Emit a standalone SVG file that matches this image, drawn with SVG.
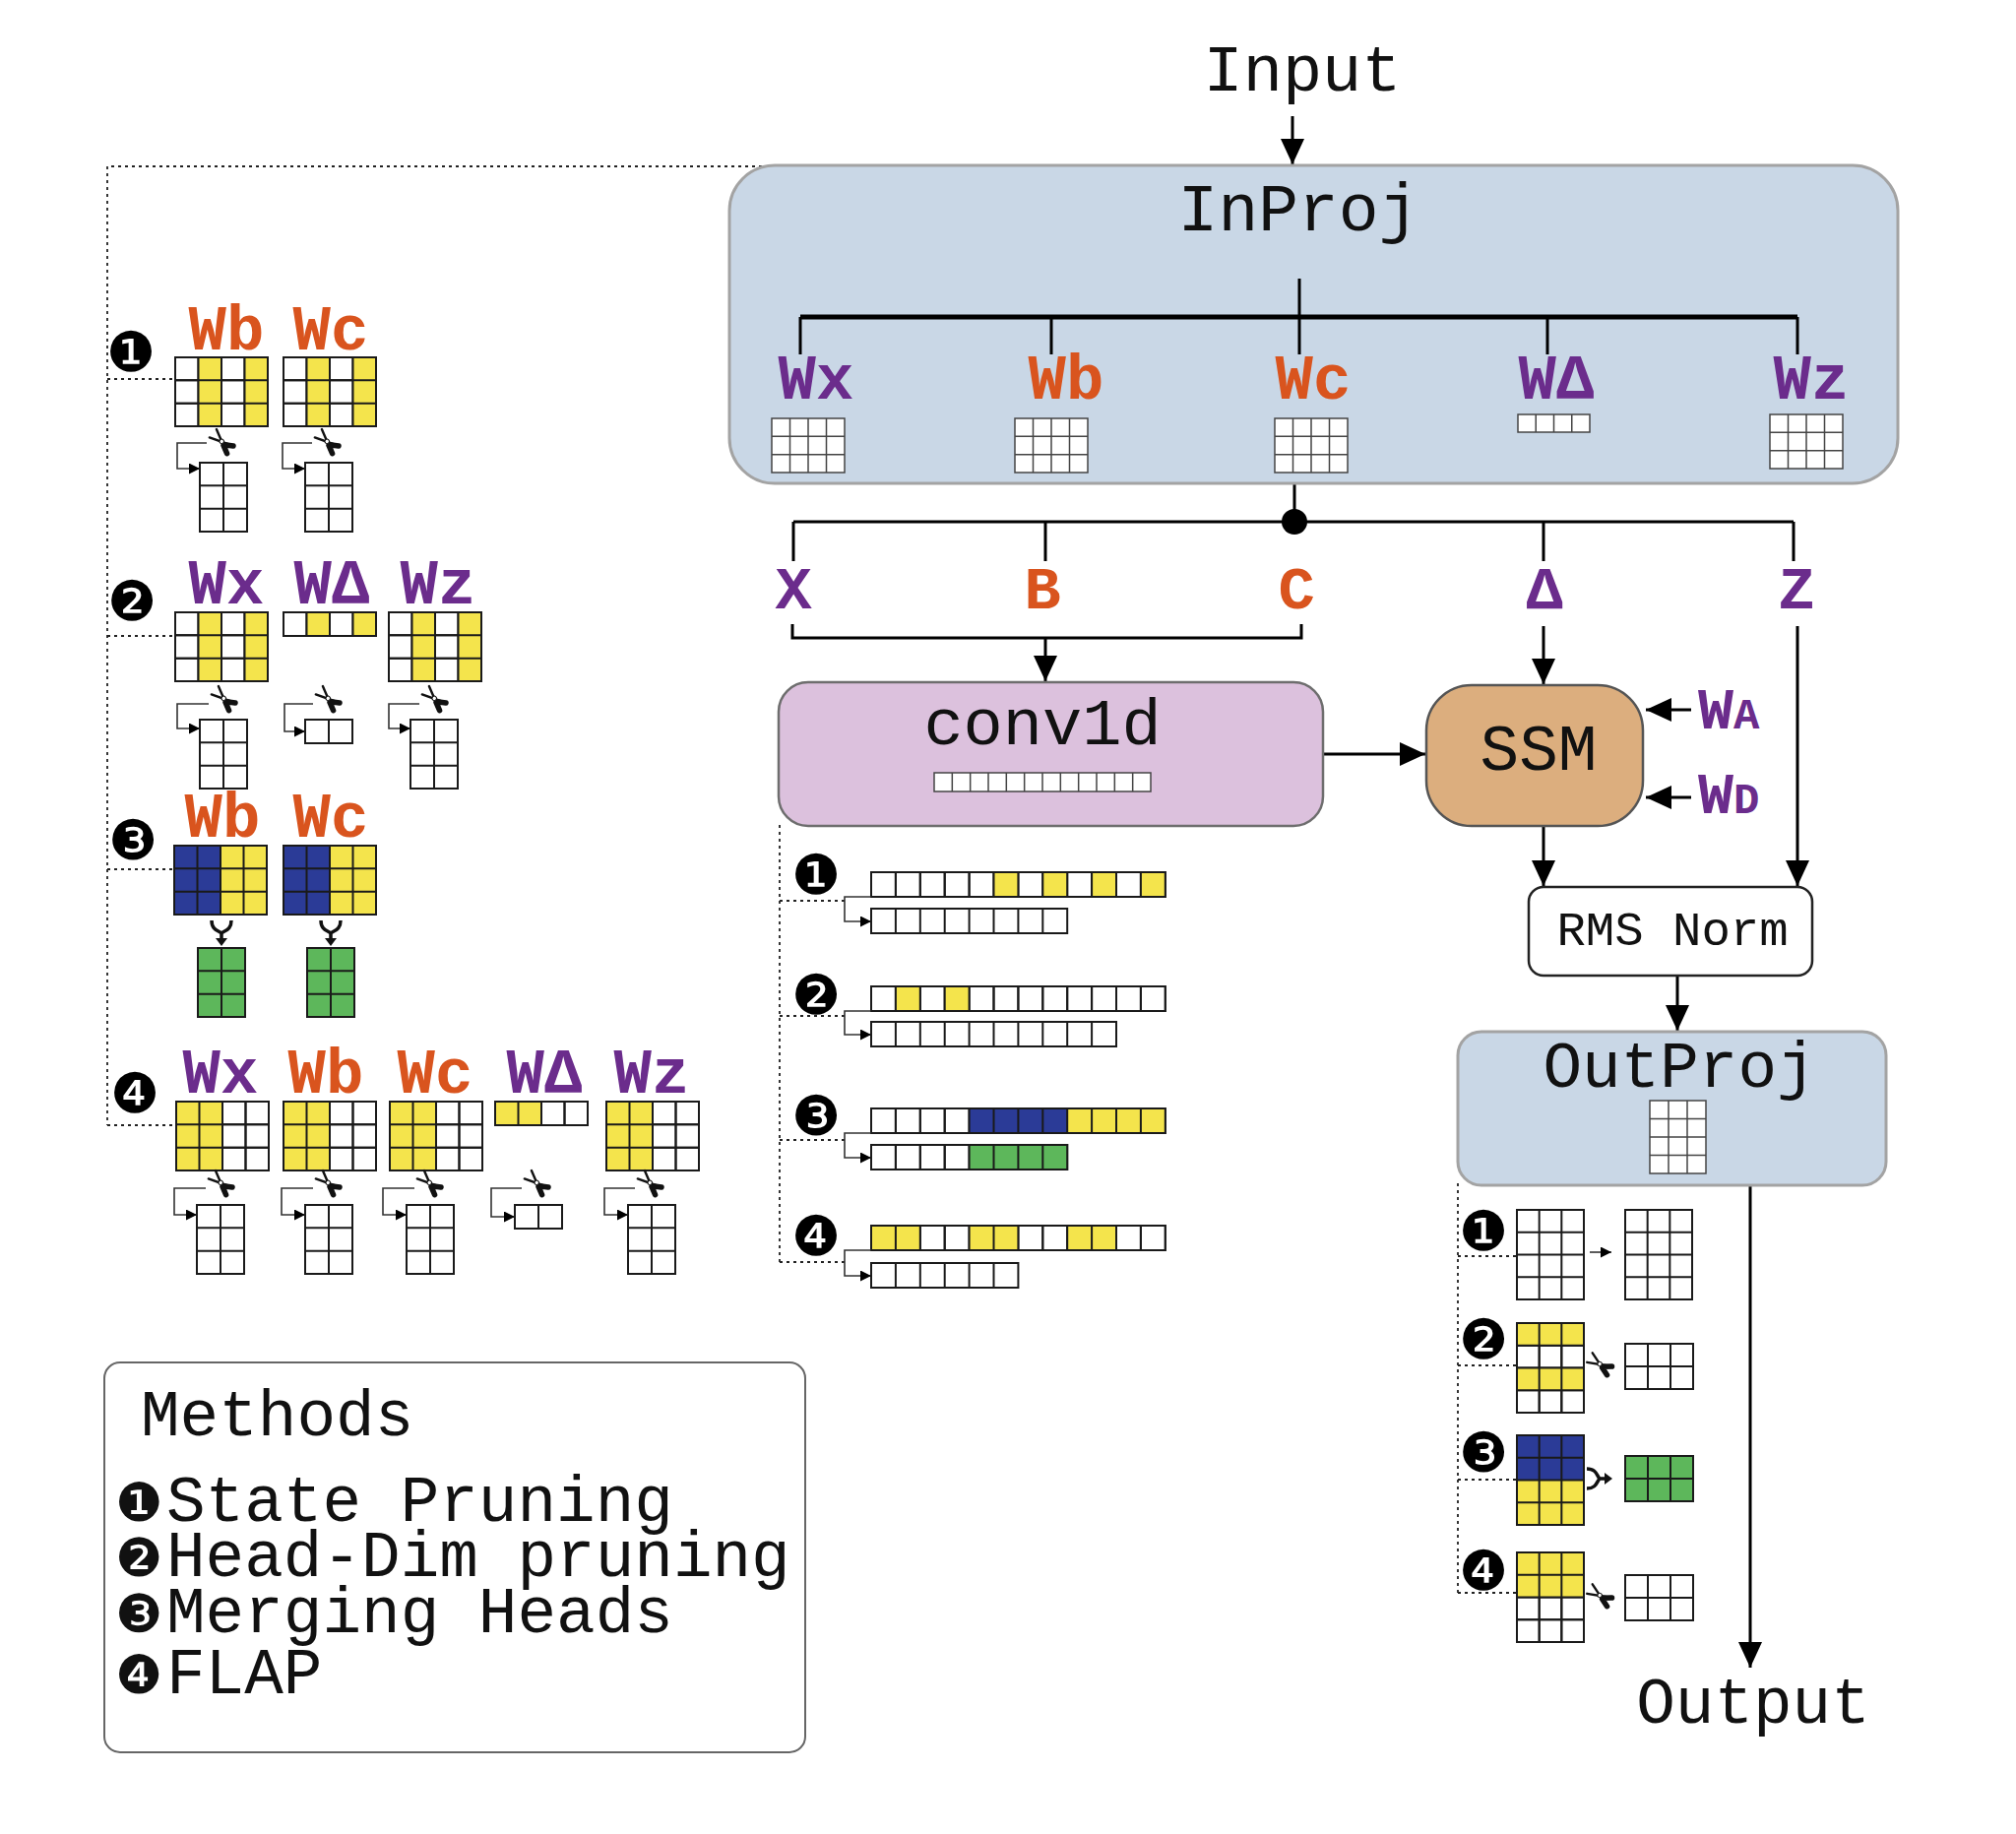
<svg xmlns="http://www.w3.org/2000/svg" xmlns:xlink="http://www.w3.org/1999/xlink" width="2048" height="1863" viewBox="0 0 2048 1863">
<style>
.m{font-family:"Liberation Mono","DejaVu Sans Mono",monospace;fill:#111}
.c{text-anchor:middle}
.pu{fill:#6b2c8c}
.or{fill:#d9541e}
.b{font-weight:bold}
.num{font-family:"DejaVu Sans",sans-serif;font-size:56px;text-anchor:middle;fill:#000}
.ln{stroke:#000;stroke-width:3;fill:none}
.el{stroke:#333;stroke-width:1.6;fill:none}
.dot{stroke:#222;stroke-width:1.8;fill:none;stroke-dasharray:3 4}
.y{fill:#f4e44c}
.bl{fill:#2b3b97}
.gr{fill:#5db75b}
</style>
<defs>
<marker id="ah" viewBox="0 0 26 24" refX="26" refY="12" markerWidth="26" markerHeight="24" markerUnits="userSpaceOnUse" orient="auto"><path d="M0,0L26,12L0,24z" fill="#000"/></marker>
<marker id="as" viewBox="0 0 10 10" refX="10" refY="5" markerWidth="11" markerHeight="11" markerUnits="userSpaceOnUse" orient="auto"><path d="M0,0L10,5L0,10z" fill="#000"/></marker>
<g id="gIn43" stroke="#444" stroke-width="1.5"><rect width="74" height="55"/><path fill="none" d="M18.5,0V55M37,0V55M55.5,0V55M0,18.33H74M0,36.67H74"/></g>
<g id="gIn41" stroke="#444" stroke-width="1.5"><rect width="73" height="18"/><path fill="none" d="M18.25,0V18M36.5,0V18M54.75,0V18"/></g>
<g id="gO34" stroke="#444" stroke-width="1.5"><rect width="57" height="74"/><path fill="none" d="M19,0V74M38,0V74M0,18.5H57M0,37H57M0,55.5H57"/></g>
<g id="gC12" stroke="#444" stroke-width="1.5"><rect width="220" height="19"/><path fill="none" d="M18.33,0V19M36.67,0V19M55,0V19M73.33,0V19M91.67,0V19M110,0V19M128.33,0V19M146.67,0V19M165,0V19M183.33,0V19M201.67,0V19"/></g>
<g id="gL43" stroke="#1a1a1a" stroke-width="2"><rect width="94" height="70"/><path fill="none" d="M23.5,0V70M47,0V70M70.5,0V70M0,23.33H94M0,46.67H94"/></g>
<g id="gL41" stroke="#1a1a1a" stroke-width="2"><rect width="94" height="24"/><path fill="none" d="M23.5,0V24M47,0V24M70.5,0V24"/></g>
<g id="gL23" stroke="#1a1a1a" stroke-width="2"><rect width="48" height="70"/><path fill="none" d="M24,0V70M0,23.33H48M0,46.67H48"/></g>
<g id="gL21" stroke="#1a1a1a" stroke-width="2"><rect width="48" height="24"/><path fill="none" d="M24,0V24"/></g>
<g id="gR34" stroke="#1a1a1a" stroke-width="2"><rect width="68" height="91"/><path fill="none" d="M22.67,0V91M45.33,0V91M0,22.75H68M0,45.5H68M0,68.25H68"/></g>
<g id="gR32" stroke="#1a1a1a" stroke-width="2"><rect width="69" height="46"/><path fill="none" d="M23,0V46M46,0V46M0,23H69"/></g>
<g id="b12" stroke="#1a1a1a" stroke-width="2"><rect width="298.8" height="25"/><path fill="none" d="M24.9,0V25M49.8,0V25M74.7,0V25M99.6,0V25M124.5,0V25M149.4,0V25M174.3,0V25M199.2,0V25M224.1,0V25M249,0V25M273.9,0V25"/></g>
<g id="b10" stroke="#1a1a1a" stroke-width="2"><rect width="249" height="25"/><path fill="none" d="M24.9,0V25M49.8,0V25M74.7,0V25M99.6,0V25M124.5,0V25M149.4,0V25M174.3,0V25M199.2,0V25M224.1,0V25"/></g>
<g id="b8" stroke="#1a1a1a" stroke-width="2"><rect width="199.2" height="25"/><path fill="none" d="M24.9,0V25M49.8,0V25M74.7,0V25M99.6,0V25M124.5,0V25M149.4,0V25M174.3,0V25"/></g>
<g id="b6" stroke="#1a1a1a" stroke-width="2"><rect width="149.4" height="25"/><path fill="none" d="M24.9,0V25M49.8,0V25M74.7,0V25M99.6,0V25M124.5,0V25"/></g>
<g id="sc" fill="none" stroke="#111" stroke-linecap="round">
<path d="M-13,-6L11,6M-13,5L11,-4" stroke-width="2.4"/>
<path d="M3,2L11,6M3,1L11,-4" stroke-width="5.5"/>
<circle cx="-1" cy="0" r="2.2" fill="#fff" stroke-width="1"/>
</g>
<g id="mg">
<path d="M-10,-13C-10,-3 -3,-3 0,0C3,-3 10,-3 10,-13M0,0V6" fill="none" stroke="#111" stroke-width="3.5"/>
<path d="M-6,5L6,5L0,13z" fill="#111"/>
</g>
</defs>
<rect width="2048" height="1863" fill="#fff"/>

<g id="connectors">
<path class="ln" d="M1313,118V167" marker-end="url(#ah)"/>
<path class="ln" d="M1315,491V530M806,530H1822M806,530V570M1062,530V570M1568,530V570M1822,530V570"/>
<circle cx="1315" cy="530" r="13" fill="#000"/>
<path class="ln" d="M805,634V648H1322V634"/>
<path class="ln" d="M1062,648V692" marker-end="url(#ah)"/>
<path class="ln" d="M1568,636V695" marker-end="url(#ah)"/>
<path class="ln" d="M1344,766H1448" marker-end="url(#ah)"/>
<path class="ln" d="M1718,721H1672" marker-end="url(#ah)"/>
<path class="ln" d="M1718,810H1672" marker-end="url(#ah)"/>
<path class="ln" d="M1568,839V900" marker-end="url(#ah)"/>
<path class="ln" d="M1826,636V900" marker-end="url(#ah)"/>
<path class="ln" d="M1704,991V1047" marker-end="url(#ah)"/>
<path class="ln" d="M1778,1204V1694" marker-end="url(#ah)"/>
<path class="dot" d="M795,169H109V1143"/>
<path class="dot" d="M109,385H176M109,646H176M109,883H176M109,1143H176"/>
<path class="dot" d="M792,838V1282M792,915H858M792,1032H858M792,1158H858M792,1282H858"/>
<path class="dot" d="M1481,1202V1618M1481,1276H1541M1481,1387H1541M1481,1503H1541M1481,1618H1541"/>
</g>

<g id="input"><text class="m c" x="1323" y="92" font-size="67">Input</text></g>

<g id="inproj">
<rect x="741" y="168" width="1187" height="323" rx="46" fill="#c9d7e6" stroke="#a3a3a3" stroke-width="3"/>
<text class="m c" x="1319" y="234" font-size="68">InProj</text>
<path d="M1320,283V322M813,322V360M1068,322V360M1320,322V360M1572,322V360M1826,322V360" stroke="#000" stroke-width="3" fill="none"/>
<path d="M813,322H1826" stroke="#000" stroke-width="5"/>
<text class="m c b pu" x="829" y="405" font-size="64">Wx</text>
<text class="m c b or" x="1083" y="405" font-size="64">Wb</text>
<text class="m c b or" x="1334" y="405" font-size="64">Wc</text>
<text class="m c b pu" x="1581" y="405" font-size="64">WΔ</text>
<text class="m c b pu" x="1840" y="405" font-size="64">Wz</text>
<use href="#gIn43" x="784" y="425" fill="#fff"/>
<use href="#gIn43" x="1031" y="425" fill="#fff"/>
<use href="#gIn43" x="1295" y="425" fill="#fff"/>
<use href="#gIn41" x="1542" y="421" fill="#fff"/>
<use href="#gIn43" x="1798" y="421" fill="#fff"/>
</g>

<g id="labels">
<text class="m c b pu" x="806" y="618" font-size="62">X</text>
<text class="m c b or" x="1059" y="618" font-size="62">B</text>
<text class="m c b or" x="1317" y="618" font-size="62">C</text>
<text class="m c b pu" x="1569" y="618" font-size="62">Δ</text>
<text class="m c b pu" x="1825" y="618" font-size="62">Z</text>
</g>

<g id="conv1d">
<rect x="791" y="693" width="553" height="146" rx="30" fill="#dcc1dd" stroke="#6e6e6e" stroke-width="2.5"/>
<text class="m c" x="1059" y="756" font-size="67">conv1d</text>
<use href="#gC12" x="949" y="785" fill="#fff"/>
</g>

<g id="ssm">
<rect x="1449" y="696" width="220" height="143" rx="46" fill="#dcae7e" stroke="#555" stroke-width="2.5"/>
<text class="m c" x="1563" y="782" font-size="66">SSM</text>
</g>
<g id="wa"><text class="m b pu" x="1725" y="740" font-size="60">W<tspan font-size="44">A</tspan></text></g>
<g id="wd"><text class="m b pu" x="1725" y="826" font-size="60">W<tspan font-size="44">D</tspan></text></g>

<g id="rmsnorm">
<rect x="1553" y="901" width="288" height="90" rx="15" fill="#fff" stroke="#222" stroke-width="2.5"/>
<text class="m c" x="1699" y="960" font-size="49">RMS Norm</text>
</g>

<g id="outproj">
<rect x="1481" y="1048" width="435" height="156" rx="24" fill="#c9d7e6" stroke="#a3a3a3" stroke-width="3"/>
<text class="m c" x="1706" y="1104" font-size="66">OutProj</text>
<use href="#gO34" x="1676" y="1118" fill="#fff"/>
</g>

<g id="output"><text class="m c" x="1781" y="1750" font-size="66">Output</text></g>

<g id="left-1">
<text class="num" x="133" y="377">❶</text>
<text class="m c b or" x="230" y="355" font-size="64">Wb</text>
<text class="m c b or" x="336" y="355" font-size="64">Wc</text>
<use href="#gL43" x="178" y="363" fill="#fff"/>
<rect class="y" x="201.5" y="363" width="23.5" height="70"/><rect class="y" x="248.5" y="363" width="23.5" height="70"/>
<use href="#gL43" x="178" y="363" fill="none"/>
<use href="#gL43" x="288" y="363" fill="#fff"/>
<rect class="y" x="311.5" y="363" width="23.5" height="70"/><rect class="y" x="358.5" y="363" width="23.5" height="70"/>
<use href="#gL43" x="288" y="363" fill="none"/>
<use href="#sc" transform="translate(226,449) rotate(40)"/><use href="#sc" transform="translate(333,449) rotate(40)"/>
<path class="el" d="M210,450H180V476H203" marker-end="url(#as)"/>
<path class="el" d="M317,450H287V476H310" marker-end="url(#as)"/>
<use href="#gL23" x="203" y="470" fill="#fff"/>
<use href="#gL23" x="310" y="470" fill="#fff"/>
</g>

<g id="left-2">
<text class="num" x="134" y="630">❷</text>
<text class="m c b pu" x="230" y="613" font-size="64">Wx</text>
<text class="m c b pu" x="337" y="613" font-size="64">WΔ</text>
<text class="m c b pu" x="445" y="613" font-size="64">Wz</text>
<use href="#gL43" x="178" y="622" fill="#fff"/>
<rect class="y" x="201.5" y="622" width="23.5" height="70"/><rect class="y" x="248.5" y="622" width="23.5" height="70"/>
<use href="#gL43" x="178" y="622" fill="none"/>
<use href="#gL41" x="288" y="622" fill="#fff"/>
<rect class="y" x="311.5" y="622" width="23.5" height="24"/><rect class="y" x="358.5" y="622" width="23.5" height="24"/>
<use href="#gL41" x="288" y="622" fill="none"/>
<use href="#gL43" x="395" y="622" fill="#fff"/>
<rect class="y" x="418.5" y="622" width="23.5" height="70"/><rect class="y" x="465.5" y="622" width="23.5" height="70"/>
<use href="#gL43" x="395" y="622" fill="none"/>
<use href="#sc" transform="translate(228,710) rotate(40)"/><use href="#sc" transform="translate(334,710) rotate(40)"/><use href="#sc" transform="translate(442,710) rotate(40)"/>
<path class="el" d="M212,715H180V740H203" marker-end="url(#as)"/>
<path class="el" d="M318,715H289V743H310" marker-end="url(#as)"/>
<path class="el" d="M426,715H395V740H417" marker-end="url(#as)"/>
<use href="#gL23" x="203" y="731" fill="#fff"/>
<use href="#gL21" x="310" y="731" fill="#fff"/>
<use href="#gL23" x="417" y="731" fill="#fff"/>
</g>

<g id="left-3">
<text class="num" x="135" y="873">❸</text>
<text class="m c b or" x="226" y="850" font-size="64">Wb</text>
<text class="m c b or" x="336" y="850" font-size="64">Wc</text>
<rect class="bl" x="177" y="859" width="47" height="70"/><rect class="y" x="224" y="859" width="47" height="70"/>
<use href="#gL43" x="177" y="859" fill="none"/>
<rect class="bl" x="288" y="859" width="47" height="70"/><rect class="y" x="335" y="859" width="47" height="70"/>
<use href="#gL43" x="288" y="859" fill="none"/>
<use href="#mg" x="225" y="948"/><use href="#mg" x="336" y="948"/>
<use href="#gL23" x="201" y="963" fill="#5db75b"/>
<use href="#gL23" x="312" y="963" fill="#5db75b"/>
</g>

<g id="left-4">
<text class="num" x="137" y="1130">❹</text>
<text class="m c b pu" x="224" y="1110" font-size="64">Wx</text>
<text class="m c b or" x="331" y="1110" font-size="64">Wb</text>
<text class="m c b or" x="442" y="1110" font-size="64">Wc</text>
<text class="m c b pu" x="553" y="1110" font-size="64">WΔ</text>
<text class="m c b pu" x="662" y="1110" font-size="64">Wz</text>
<use href="#gL43" x="179" y="1119" fill="#fff"/><rect class="y" x="179" y="1119" width="47" height="70"/><use href="#gL43" x="179" y="1119" fill="none"/>
<use href="#gL43" x="288" y="1119" fill="#fff"/><rect class="y" x="288" y="1119" width="47" height="70"/><use href="#gL43" x="288" y="1119" fill="none"/>
<use href="#gL43" x="396" y="1119" fill="#fff"/><rect class="y" x="396" y="1119" width="47" height="70"/><use href="#gL43" x="396" y="1119" fill="none"/>
<use href="#gL41" x="503" y="1119" fill="#fff"/><rect class="y" x="503" y="1119" width="47" height="24"/><use href="#gL41" x="503" y="1119" fill="none"/>
<use href="#gL43" x="616" y="1119" fill="#fff"/><rect class="y" x="616" y="1119" width="47" height="70"/><use href="#gL43" x="616" y="1119" fill="none"/>
<use href="#sc" transform="translate(225,1202) rotate(40)"/><use href="#sc" transform="translate(334,1202) rotate(40)"/><use href="#sc" transform="translate(437,1202) rotate(40)"/><use href="#sc" transform="translate(546,1202) rotate(40)"/><use href="#sc" transform="translate(661,1202) rotate(40)"/>
<path class="el" d="M209,1207H177V1234H200" marker-end="url(#as)"/>
<path class="el" d="M318,1207H286V1234H310" marker-end="url(#as)"/>
<path class="el" d="M421,1207H389V1234H413" marker-end="url(#as)"/>
<path class="el" d="M530,1207H499V1236H523" marker-end="url(#as)"/>
<path class="el" d="M645,1207H614V1234H638" marker-end="url(#as)"/>
<use href="#gL23" x="200" y="1224" fill="#fff"/>
<use href="#gL23" x="310" y="1224" fill="#fff"/>
<use href="#gL23" x="413" y="1224" fill="#fff"/>
<use href="#gL21" x="523" y="1224" fill="#fff"/>
<use href="#gL23" x="638" y="1224" fill="#fff"/>
</g>

<g id="conv-1">
<text class="num" x="829" y="908">❶</text>
<use href="#b12" x="885" y="886" fill="#fff"/>
<rect class="y" x="1009.5" y="886" width="24.9" height="25"/><rect class="y" x="1059.3" y="886" width="24.9" height="25"/><rect class="y" x="1109.1" y="886" width="24.9" height="25"/><rect class="y" x="1158.9" y="886" width="24.9" height="25"/>
<use href="#b12" x="885" y="886" fill="none"/>
<path class="el" d="M885,911H858V936H885" marker-end="url(#as)"/>
<use href="#b8" x="885" y="923" fill="#fff"/>
</g>
<g id="conv-2">
<text class="num" x="829" y="1030">❷</text>
<use href="#b12" x="885" y="1002" fill="#fff"/>
<rect class="y" x="909.9" y="1002" width="24.9" height="25"/><rect class="y" x="959.7" y="1002" width="24.9" height="25"/>
<use href="#b12" x="885" y="1002" fill="none"/>
<path class="el" d="M885,1027H858V1051H885" marker-end="url(#as)"/>
<use href="#b10" x="885" y="1038" fill="#fff"/>
</g>
<g id="conv-3">
<text class="num" x="829" y="1153">❸</text>
<use href="#b12" x="885" y="1126" fill="#fff"/>
<rect class="bl" x="984.6" y="1126" width="99.6" height="25"/><rect class="y" x="1084.2" y="1126" width="99.6" height="25"/>
<use href="#b12" x="885" y="1126" fill="none"/>
<path class="el" d="M885,1151H858V1176H885" marker-end="url(#as)"/>
<use href="#b8" x="885" y="1163" fill="#fff"/>
<rect class="gr" x="984.6" y="1163" width="99.6" height="25"/>
<use href="#b8" x="885" y="1163" fill="none"/>
</g>
<g id="conv-4">
<text class="num" x="829" y="1275">❹</text>
<use href="#b12" x="885" y="1245" fill="#fff"/>
<rect class="y" x="885" y="1245" width="49.8" height="25"/><rect class="y" x="984.6" y="1245" width="49.8" height="25"/><rect class="y" x="1084.2" y="1245" width="49.8" height="25"/>
<use href="#b12" x="885" y="1245" fill="none"/>
<path class="el" d="M885,1270H858V1296H885" marker-end="url(#as)"/>
<use href="#b6" x="885" y="1283" fill="#fff"/>
</g>

<g id="out-1">
<text class="num" x="1507" y="1270">❶</text>
<use href="#gR34" x="1541" y="1229" fill="#fff"/>
<path class="el" d="M1615,1272H1637" stroke-width="2" marker-end="url(#as)"/>
<use href="#gR34" x="1651" y="1229" fill="#fff"/>
</g>
<g id="out-2">
<text class="num" x="1507" y="1380">❷</text>
<use href="#gR34" x="1541" y="1344" fill="#fff"/>
<rect class="y" x="1541" y="1344" width="68" height="22.75"/><rect class="y" x="1541" y="1389.5" width="68" height="22.75"/>
<use href="#gR34" x="1541" y="1344" fill="none"/>
<use href="#sc" transform="translate(1626,1386) rotate(30)"/>
<use href="#gR32" x="1651" y="1365" fill="#fff"/>
</g>
<g id="out-3">
<text class="num" x="1507" y="1495">❸</text>
<rect class="bl" x="1541" y="1458" width="68" height="45.5"/><rect class="y" x="1541" y="1503.5" width="68" height="45.5"/>
<use href="#gR34" x="1541" y="1458" fill="none"/>
<use href="#mg" transform="translate(1625,1502) rotate(-90)"/>
<use href="#gR32" x="1651" y="1479" fill="#5db75b"/>
</g>
<g id="out-4">
<text class="num" x="1507" y="1615">❹</text>
<use href="#gR34" x="1541" y="1577" fill="#fff"/>
<rect class="y" x="1541" y="1577" width="68" height="45.5"/>
<use href="#gR34" x="1541" y="1577" fill="none"/>
<use href="#sc" transform="translate(1626,1621) rotate(30)"/>
<use href="#gR32" x="1651" y="1600" fill="#fff"/>
</g>

<g id="methods">
<rect x="106" y="1384" width="712" height="396" rx="16" fill="#fff" stroke="#666" stroke-width="2"/>
<text class="m" x="143" y="1458" font-size="66">Methods</text>
<text class="m" x="117" y="1545" font-size="66"><tspan font-family="DejaVu Sans" font-size="54">❶</tspan><tspan x="169">State Pruning</tspan></text>
<text class="m" x="117" y="1601" font-size="66"><tspan font-family="DejaVu Sans" font-size="54">❷</tspan><tspan x="169">Head-Dim pruning</tspan></text>
<text class="m" x="117" y="1658" font-size="66"><tspan font-family="DejaVu Sans" font-size="54">❸</tspan><tspan x="169">Merging Heads</tspan></text>
<text class="m" x="117" y="1720" font-size="66"><tspan font-family="DejaVu Sans" font-size="54">❹</tspan><tspan x="169">FLAP</tspan></text>
</g>
</svg>
